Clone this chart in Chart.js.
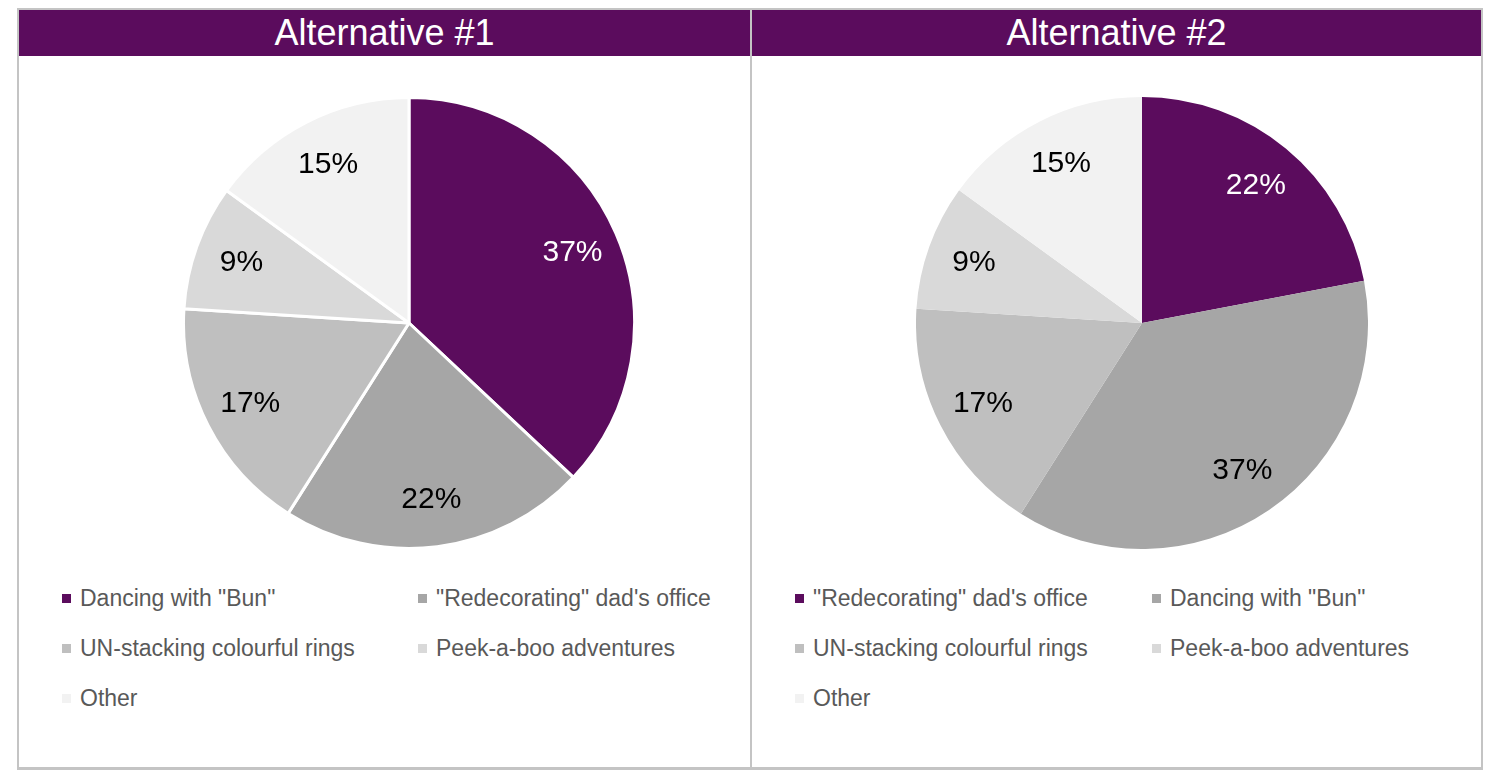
<!DOCTYPE html>
<html>
<head>
<meta charset="utf-8">
<script src="https://cdn.jsdelivr.net/npm/chart.js@4.4.1/dist/chart.umd.min.js"></script>
<style>
  body { margin: 0; background: #ffffff; width: 1500px; height: 781px; position: relative; overflow: hidden; font-family: "Liberation Sans", Arial, sans-serif; }
  .frame { position: absolute; left: 17px; top: 8px; width: 1462px; height: 757px; border: 2px solid #c4c4c4; border-bottom-width: 3px; }
  .divider { position: absolute; left: 750px; top: 8px; width: 2px; height: 760px; background: #c4c4c4; }
  .header { position: absolute; top: 10px; height: 46px; background: #5b0c5d; color: #ffffff; font-size: 36px; line-height: 46px; text-align: center; }
  .pie { position: absolute; }
  .legend { position: absolute; top: 580px; display: grid; row-gap: 14px; color: #595959; font-size: 23px; }
  .legend .item { display: flex; align-items: center; height: 36px; white-space: nowrap; }
  .legend .box { width: 9px; height: 9px; margin-right: 9px; flex: none; }
</style>
</head>
<body>
<div class="frame"></div>
<div class="divider"></div>
<div class="header" style="left:19px;width:731px;">Alternative #1</div>
<div class="header" style="left:752px;width:729px;">Alternative #2</div>

<div class="pie" style="left:182px;top:96px;width:454px;height:454px;"><canvas id="pie1"></canvas></div>
<div class="pie" style="left:916px;top:97px;width:452px;height:452px;"><canvas id="pie2"></canvas></div>

<div class="legend" id="legend1" style="left:62px;grid-template-columns:356px auto;"></div>
<div class="legend" id="legend2" style="left:795px;grid-template-columns:357px auto;"></div>

<script>
// slice colours, in drawing order
var colors = ['#5b0c5d', '#a6a6a6', '#bfbfbf', '#d9d9d9', '#f2f2f2'];

// Alternative #1
var labels1 = ['Dancing with "Bun"', '"Redecorating" dad\'s office', 'UN-stacking colourful rings', 'Peek-a-boo adventures', 'Other'];
var values1 = [37, 22, 17, 9, 15];

// Alternative #2
var labels2 = ['"Redecorating" dad\'s office', 'Dancing with "Bun"', 'UN-stacking colourful rings', 'Peek-a-boo adventures', 'Other'];
var values2 = [22, 37, 17, 9, 15];

// percentage labels inside the slices
var sliceLabels = {
  id: 'sliceLabels',
  afterDatasetsDraw: function (chart) {
    var ctx = chart.ctx;
    var data = chart.data.datasets[0].data;
    var total = data.reduce(function (a, b) { return a + b; }, 0);
    chart.getDatasetMeta(0).data.forEach(function (arc, i) {
      var p = arc.getProps(['x', 'y', 'startAngle', 'endAngle', 'outerRadius'], true);
      var mid = (p.startAngle + p.endAngle) / 2;
      var r = p.outerRadius * 0.79;
      ctx.save();
      ctx.font = '30px "Liberation Sans", Arial, sans-serif';
      ctx.fillStyle = i === 0 ? '#ffffff' : '#000000';
      ctx.textAlign = 'center';
      ctx.textBaseline = 'middle';
      ctx.fillText(Math.round(data[i] / total * 100) + '%', p.x + Math.cos(mid) * r, p.y + Math.sin(mid) * r);
      ctx.restore();
    });
  }
};

function makePie(id, labels, values, border) {
  var ctx = document.getElementById(id).getContext('2d');
  return new Chart(ctx, {
    type: 'pie',
    data: {
      labels: labels,
      datasets: [
        {
          data: values,
          backgroundColor: colors,
          borderColor: '#ffffff',
          borderWidth: border
        }
      ]
    },
    options: {
      responsive: true,
      maintainAspectRatio: false,
      animation: false,
      layout: { padding: 0 },
      plugins: {
        legend: { display: false },
        tooltip: { enabled: false }
      }
    },
    plugins: [sliceLabels]
  });
}

function makeLegend(id, labels) {
  var el = document.getElementById(id);
  labels.forEach(function (label, i) {
    var item = document.createElement('div');
    item.className = 'item';
    var box = document.createElement('span');
    box.className = 'box';
    box.style.background = colors[i];
    var txt = document.createElement('span');
    txt.textContent = label;
    item.appendChild(box);
    item.appendChild(txt);
    el.appendChild(item);
  });
}

makePie('pie1', labels1, values1, 3);
makePie('pie2', labels2, values2, 0);
makeLegend('legend1', labels1);
makeLegend('legend2', labels2);
</script>
</body>
</html>
